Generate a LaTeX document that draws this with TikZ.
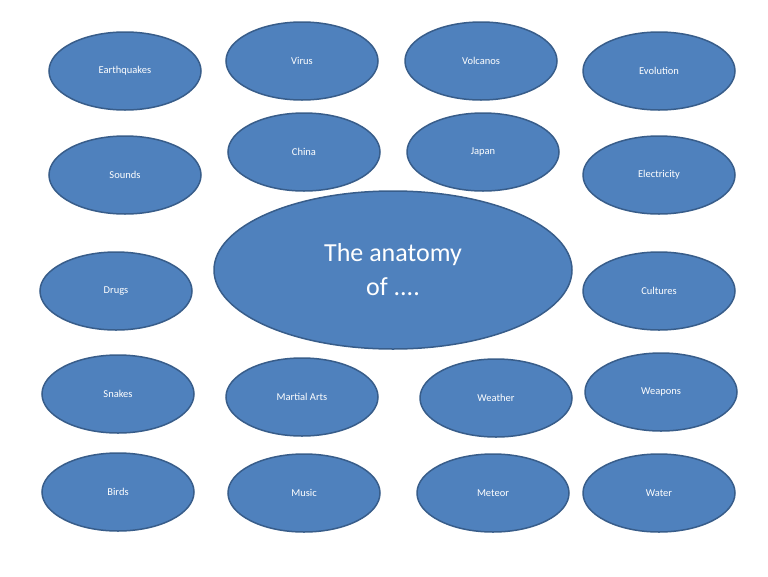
\documentclass[tikz,border=0pt]{standalone}
\usepackage{fontspec}
\setmainfont{Carlito}
\usetikzlibrary{shapes.geometric}
\definecolor{fillb}{HTML}{4F81BD}
\definecolor{lineb}{HTML}{385D8A}
\tikzset{
  topic/.style={ellipse,draw=lineb,line width=1.5pt,fill=fillb,text=white,minimum width=152pt,minimum height=78pt,inner sep=0pt,font=\fontsize{10.5}{12}\selectfont},
  big/.style={topic,minimum width=358pt,minimum height=158pt,align=center,font=\fontsize{26}{34}\selectfont}
}
\begin{document}
\begin{tikzpicture}[x=1pt,y=-1pt]
\useasboundingbox (0,0) rectangle (768,576);
\node[topic] (eq) at (125,71) {Earthquakes};
\node[topic] (vi) at (302,61) {Virus};
\node[topic] (vo) at (481,61) {Volcanos};
\node[topic] (ev) at (659,71) {Evolution};
\node[topic] (so) at (125,175) {Sounds};
\node[topic] (ch) at (304,152) {China};
\node[topic] (ja) at (483,152) {Japan};
\node[topic] (el) at (659,175) {Electricity};
\node[big] (an) at (393,270) {The anatomy\\of ....};
\node[topic] (dr) at (116,291) {Drugs};
\node[topic] (cu) at (659,291) {Cultures};
\node[topic] (sn) at (118,394) {Snakes};
\node[topic] (ma) at (302,397) {Martial Arts};
\node[topic] (we) at (496,398) {Weather};
\node[topic] (wp) at (661,392) {Weapons};
\node[topic] (bi) at (118,492) {Birds};
\node[topic] (mu) at (304,493) {Music};
\node[topic] (me) at (493,493) {Meteor};
\node[topic] (wa) at (659,493) {Water};
\end{tikzpicture}
\end{document}
